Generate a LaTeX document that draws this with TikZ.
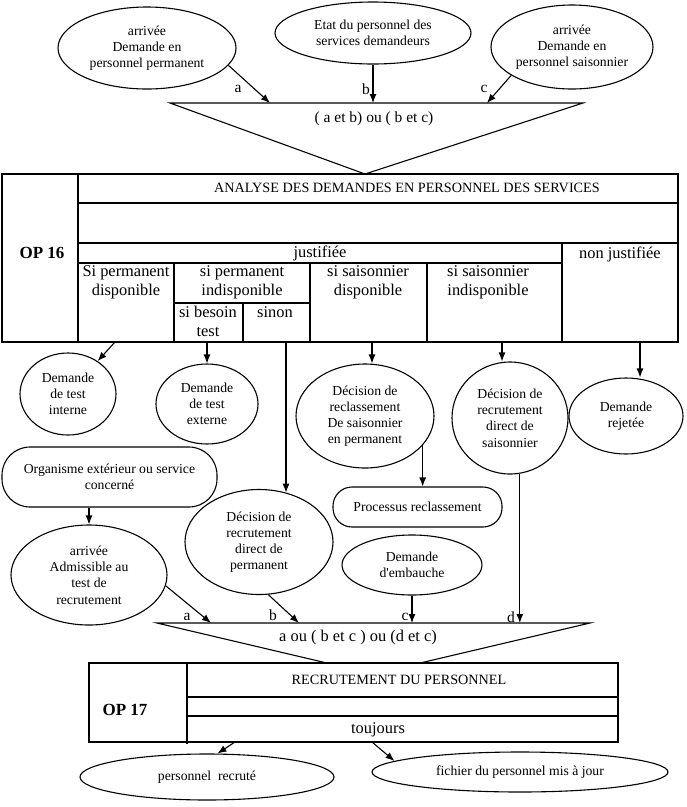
\documentclass[tikz,border=0pt]{standalone}
\usepackage{fontspec}
\setmainfont{Liberation Serif}
\usetikzlibrary{shapes.geometric, shapes.misc, arrows.meta, positioning}
\tikzset{>={Latex[length=9pt,width=7pt]}}

\begin{document}
\begin{tikzpicture}[x=1pt, y=-1pt, line width=1.1pt,
        evt/.style 2 args={ellipse, draw, align=center, inner sep=0pt,
            minimum width=#1pt, minimum height=#2pt,
            font=\fontsize{13.7}{16.2}\selectfont},
        proc/.style 2 args={rectangle, draw, align=center, inner sep=0pt,
            minimum width=#1pt, minimum height=#2pt,
            font=\fontsize{13.7}{16.2}\selectfont},
        cell/.style={align=center, inner sep=0pt,
            font=\fontsize{16.4}{19}\selectfont},
        titre/.style={inner sep=0pt, font=\fontsize{14.2}{16}\selectfont},
        opnum/.style={inner sep=0pt, font=\bfseries\fontsize{17}{20}\selectfont},
        lbl/.style={inner sep=0pt, font=\fontsize{15.5}{18}\selectfont},
    ]
        \useasboundingbox (0,0) rectangle (687,807);

        % events in
        \node[evt={178}{82}] (e1) at (147,48) {arrivée\\Demande en\\personnel permanent};
        \node[evt={196}{62}] (e2) at (373,33) {Etat du personnel des\\services demandeurs};
        \node[evt={162}{84}] (e3) at (572,47) {arrivée\\Demande en\\personnel saisonnier};

        % synchro OP 16
        \coordinate (t1l) at (170,103);
        \coordinate (t1r) at (583,103);
        \coordinate (t1b) at (365,174);
        \draw (t1l) -- (t1r) -- (t1b) -- cycle;
        \node[lbl] (cond1) at (374,119) {( a et b) ou ( b et c)};
        \coordinate (ia) at (270,103);
        \coordinate (ib) at (373,103);
        \coordinate (ic) at (487,103);
        \draw[->] (e1.-12) -- (ia);
        \draw[->] (e2.south) -- (ib);
        \draw[->] (e3.205) -- (ic);
        \node[lbl] (la) at (238,89) {a};
        \node[lbl] (lb) at (366,89) {b};
        \node[lbl] (lc) at (484,89) {c};

        % operation OP 16
        \draw (2,174) rectangle (678,342);
        \draw (78,174) -- (78,342);
        \draw (78,203) -- (678,203);
        \draw (78,243) -- (678,243);
        \draw (78,263) -- (562,263);
        \draw (562,243) -- (562,342);
        \foreach \x in {174,310,427}
            \draw (\x,263) -- (\x,342);
        \draw (174,303) -- (310,303);
        \draw (243,303) -- (243,342);
        \node[opnum] (op16) at (42,253) {OP 16};
        \node[titre] (ana) at (407,188) {ANALYSE DES DEMANDES EN PERSONNEL DES SERVICES};
        \node[cell] (just) at (320,253) {justifiée};
        \node[cell] (njust) at (620,254) {non justifiée};
        \node[cell] (r1) at (126,282) {Si permanent\\disponible};
        \node[cell] (r2) at (242,282) {si permanent\\indisponible};
        \node[cell] (r21) at (208,321) {si besoin\\test};
        \node[cell] (r22) at (275,312) {sinon};
        \node[cell] (r3) at (368,282) {si saisonnier\\disponible};
        \node[cell] (r4) at (488,282) {si saisonnier\\indisponible};

        % results OP 16
        \node[evt={96}{82}] (ti) at (68,394) {Demande\\de test\\interne};
        \node[evt={102}{80}] (te) at (207,404) {Demande\\de test\\externe};
        \node[evt={138}{104}] (dr) at (365,416) {Décision de\\reclassement\\De saisonnier\\en permanent};
        \node[evt={116}{112}] (ds) at (510,418) {Décision de\\recrutement\\direct de\\saisonnier};
        \node[evt={114}{76}] (rj) at (626,416) {Demande\\rejetée};
        \coordinate (s1) at (115,342);
        \coordinate (s2) at (207,342);
        \coordinate (s3) at (286,342);
        \coordinate (s4) at (372,342);
        \coordinate (s5) at (502,342);
        \coordinate (s6) at (640,342);
        \draw[->] (s1) -- (ti.48);
        \draw[->] (s2) -- (te.north);
        \draw[->] (s4) -- (s4 |- dr.north);
        \draw[->] (s5) -- (s5 |- ds.north);
        \draw[->] (s6) -- (s6 |- rj.north);

        % middle
        \node[proc={215}{60}, rounded corners=28pt] (org) at (109.5,477) {Organisme extérieur ou service\\concerné};
        \node[proc={169}{40}, rounded corners=19pt] (pr) at (417.5,507) {Processus reclassement};
        \node[evt={156}{100}] (adm) at (89,575) {arrivée\\Admissible au\\test de\\recrutement};
        \node[evt={148}{105}] (dp) at (259,542) {Décision de\\recrutement\\direct de\\permanent};
        \node[evt={140}{60}] (emb) at (412,565) {Demande\\d\textquotesingle embauche};
        \draw[->] (s3) -- (s3 |- dp.61);
        \draw[->] (dr.-27) -- (dr.-27 |- pr.north);
        \draw[->] (org.south -| adm.north) -- (adm.north);

        % synchro OP 17
        \coordinate (t2l) at (157,623);
        \coordinate (t2r) at (590,623);
        \coordinate (t2b) at (373.5,674);
        \draw (t2l) -- (t2r) -- (t2b) -- cycle;
        \node[lbl, font=\fontsize{16.4}{19}\selectfont] (cond2) at (358,638) {a ou ( b et c ) ou (d et c)};
        \coordinate (ja) at (211,623);
        \coordinate (jb) at (299,623);
        \coordinate (jc) at (412,623);
        \coordinate (jd) at (520,623);
        \draw[->] (adm.-8) -- (ja);
        \draw[->] (dp.-80) -- (jb);
        \draw[->] (emb.south) -- (jc);
        \draw[->] (ds.-80) -- (ds.-80 |- jd);
        \node[lbl] (ma) at (187,617) {a};
        \node[lbl] (mb) at (273,615) {b};
        \node[lbl] (mc) at (405,617) {c};
        \node[lbl] (md) at (511,617) {d};

        % operation OP 17
        \draw[fill=white] (89,663) rectangle (618,742);
        \draw (187,663) -- (187,744);
        \draw (187,697) -- (618,697);
        \draw (187,716) -- (618,716);
        \node[opnum] (op17) at (125,710) {OP 17};
        \node[titre] (recr) at (399,680) {RECRUTEMENT DU PERSONNEL};
        \node[cell] (touj) at (378,730) {toujours};

        % results OP 17
        \node[evt={254}{46}] (rec) at (207,777) {personnel\ \ recruté};
        \node[evt={296}{40}] (fic) at (520,772) {fichier du personnel mis à jour};
        \coordinate (u1) at (235,742);
        \coordinate (u2) at (372,742);
        \draw[->] (u1) -- (rec.66);
        \draw[->] (u2) -- (fic.175);
    \end{tikzpicture}
\end{document}
